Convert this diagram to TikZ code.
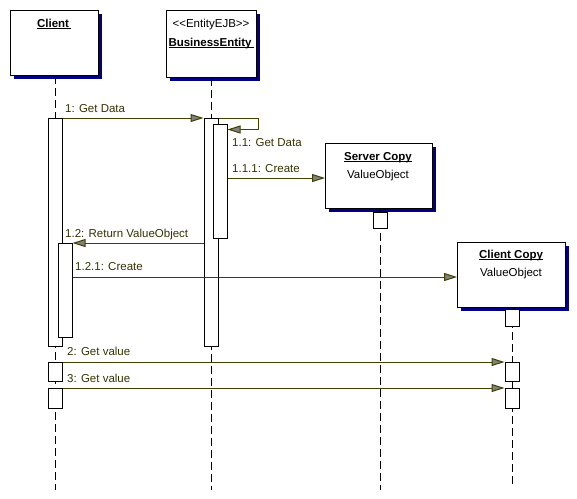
\documentclass[tikz,border=0pt]{standalone}
\usepackage{fontspec}
\setmainfont{Liberation Sans}
\usetikzlibrary{arrows.meta,shadows}
\definecolor{msgc}{RGB}{64,64,0}
\definecolor{labc}{RGB}{51,51,0}
\definecolor{shad}{RGB}{0,0,128}
\definecolor{arrg}{RGB}{128,128,128}
\newcommand\myul[1]{\setbox0\hbox{#1}\rlap{\rule[-1.8pt]{\wd0}{1pt}}\box0}
\begin{document}
\begin{tikzpicture}[x=1pt,y=-1pt,
  every node/.style={font=\fontsize{11.5}{13}\selectfont},
  objbox/.style={draw=black, fill=white, line width=1pt, inner sep=0, anchor=north west,
    drop shadow={shadow xshift=3pt, shadow yshift=-3pt, fill=shad, opacity=1}},
  lifeline/.style={draw=black, line width=1pt, dash pattern=on 8pt off 4pt},
  act/.style={draw=black, fill=white, line width=1pt, minimum width=14pt, inner sep=0, anchor=north},
  msg/.style={draw=msgc, line width=1pt, -{Triangle[length=13pt,width=8pt,fill=arrg,line width=1pt]}},
  lab/.style={text=labc, anchor=base west, inner sep=0},
  boxtext/.style={text=black, inner sep=0, anchor=base}]
\useasboundingbox (0,0) rectangle (577,498);
\fill[white] (0,0) rectangle (577,498);

% object boxes
\node[objbox, minimum width=88pt, minimum height=65pt] (client) at (10,10) {};
\node[objbox, minimum width=90pt, minimum height=67pt] (be) at (166,10) {};
\node[objbox, minimum width=107pt, minimum height=65pt] (srv) at (325,143) {};
\node[objbox, minimum width=108pt, minimum height=65pt] (cc) at (457,242) {};

\node[boxtext] (tclient) at (54,27.5) {\myul{\textbf{Client}\,}};
\node[boxtext] (tster) at (211,27.5) {<{}<EntityEJB>{}>};
\node[boxtext] (tbe) at (211,46.5) {\myul{\textbf{BusinessEntity}\,}};
\node[boxtext] (tsrv) at (378,160.5) {\myul{\textbf{Server Copy}}};
\node[boxtext] (tsrv2) at (378,178.5) {ValueObject};
\node[boxtext] (tcc) at (511,258.5) {\myul{\textbf{Client Copy}}};
\node[boxtext] (tcc2) at (511,276.5) {ValueObject};

% lifeline ends
\coordinate (endc) at (55,490);
\coordinate (endb) at (211,490);
\coordinate (ends) at (380,490);
\coordinate (endcc) at (512,486);

\draw[lifeline] (55,76) -- (endc);
\draw[lifeline] (211,78) -- (endb);
\draw[lifeline] (380,209) -- (ends);
\draw[lifeline] (512,308) -- (endcc);

% activations
\node[act, minimum height=228pt] (c1) at (55,118) {};
\node[act, minimum height=94pt] (c2) at (65,243) {};
\node[act, minimum height=19pt] (c3) at (55,362) {};
\node[act, minimum height=20pt] (c4) at (55,388) {};
\node[act, minimum height=228pt] (b1) at (211,118) {};
\node[act, minimum height=114pt] (b2) at (220,124) {};
\node[act, minimum height=16pt] (s1) at (380,212) {};
\node[act, minimum height=17pt] (k1) at (512,309) {};
\node[act, minimum height=19pt] (k2) at (512,362) {};
\node[act, minimum height=20pt] (k3) at (512,388) {};

% messages
\draw[msg] (c1.north east) -- (b1.north west);
\node[lab] (l1) at (65,112) {1: Get Data};

\coordinate (sa) at (258,118);
\coordinate (sb) at (258,129.5);
\draw[msg] (b1.north east) -- (sa) -- (sb) -- (b2.east |- sb);
\node[lab] (l11) at (232,146.5) {1.1: Get Data};

\coordinate (m111) at (0,178);
\draw[msg] (b2.east |- m111) -- (srv.west |- m111);
\node[lab] (l111) at (232,172) {1.1.1: Create};

\draw[msg] (b1.west |- c2.north) -- (c2.north east);
\node[lab] (l12) at (65,237) {1.2: Return ValueObject};

\coordinate (m121) at (0,277);
\draw[msg] (c2.east |- m121) -- (cc.west |- m121);
\node[lab] (l121) at (75,270) {1.2.1: Create};

\draw[msg] (c3.north east) -- (k2.north west);
\node[lab] (l2) at (67,355) {2: Get value};

\draw[msg] (c4.north east) -- (k3.north west);
\node[lab] (l3) at (67,382) {3: Get value};
\end{tikzpicture}
\end{document}
